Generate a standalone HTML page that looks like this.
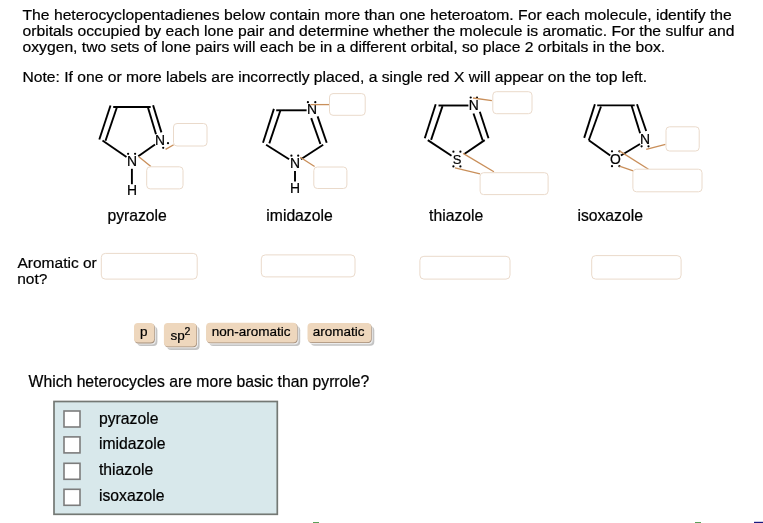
<!DOCTYPE html>
<html><head><meta charset="utf-8"><style>
html,body{margin:0;padding:0;background:#fff;width:763px;height:523px;overflow:hidden}
svg{position:absolute;left:0;top:0;will-change:transform;font-family:"Liberation Sans", sans-serif;fill:#000}
text{fill:#000;stroke:#000;stroke-width:0.22px}
</style></head><body>
<svg width="763" height="523" viewBox="0 0 763 523">
<text x="22.5" y="19.7" font-size="15.7" text-anchor="start" transform="matrix(1 0 0 0.975 0 0.493)" >The heterocyclopentadienes below contain more than one heteroatom. For each molecule, identify the</text>
<text x="22.5" y="36.0" font-size="15.7" text-anchor="start" transform="matrix(1 0 0 0.975 0 0.900)" >orbitals occupied by each lone pair and determine whether the molecule is aromatic. For the sulfur and</text>
<text x="22.5" y="51.6" font-size="15.7" text-anchor="start" transform="matrix(1 0 0 0.975 0 1.290)" >oxygen, two sets of lone pairs will each be in a different orbital, so place 2 orbitals in the box.</text>
<text x="22.5" y="81.7" font-size="15.66" text-anchor="start" transform="matrix(1 0 0 0.975 0 2.043)" >Note: If one or more labels are incorrectly placed, a single red X will appear on the top left.</text>
<line x1="113.2" y1="107" x2="150.7" y2="107" stroke="#000" stroke-width="1.9"/>
<line x1="117" y1="107" x2="105.5" y2="140.8" stroke="#000" stroke-width="1.9"/>
<line x1="110.5" y1="105.5" x2="99.3" y2="139.5" stroke="#000" stroke-width="1.9"/>
<line x1="147.8" y1="107" x2="156" y2="134.2" stroke="#000" stroke-width="1.9"/>
<line x1="153.1" y1="105.3" x2="161.4" y2="132.4" stroke="#000" stroke-width="1.9"/>
<line x1="102.5" y1="140.5" x2="126.5" y2="157" stroke="#000" stroke-width="1.9"/>
<line x1="138.3" y1="156.3" x2="155" y2="144.5" stroke="#000" stroke-width="1.9"/>
<text x="131.9" y="166.2" font-size="13.9" text-anchor="middle" >N</text>
<circle cx="128.1" cy="153.8" r="1.1" fill="#000"/>
<circle cx="135.1" cy="153.8" r="1.1" fill="#000"/>
<line x1="131.9" y1="168.8" x2="131.9" y2="184.2" stroke="#000" stroke-width="1.9"/>
<text x="132" y="195.4" font-size="13.9" text-anchor="middle" >H</text>
<text x="160" y="144.7" font-size="13.9" text-anchor="middle" >N</text>
<circle cx="168" cy="143.2" r="1.1" fill="#000"/>
<circle cx="163.2" cy="147.8" r="1.1" fill="#000"/>
<line x1="138.8" y1="156.8" x2="150.9" y2="166.4" stroke="#c98f5a" stroke-width="1.3"/>
<line x1="165.6" y1="149.4" x2="173.7" y2="144.7" stroke="#c98f5a" stroke-width="1.3"/>
<rect x="173.5" y="123.5" width="33.5" height="22.5" rx="3.5" fill="#fff" stroke="#eadacb" stroke-width="1"/>
<rect x="146.7" y="166.8" width="36.30000000000001" height="22.099999999999994" rx="3.5" fill="#fff" stroke="#eadacb" stroke-width="1"/>
<line x1="276.2" y1="110.3" x2="306.6" y2="110.3" stroke="#000" stroke-width="1.9"/>
<line x1="280.3" y1="110.7" x2="269.3" y2="143.4" stroke="#000" stroke-width="1.9"/>
<line x1="273.9" y1="108.9" x2="263" y2="142.8" stroke="#000" stroke-width="1.9"/>
<line x1="311.2" y1="118.1" x2="320.4" y2="144" stroke="#000" stroke-width="1.9"/>
<line x1="317.6" y1="116.4" x2="326.7" y2="142.8" stroke="#000" stroke-width="1.9"/>
<line x1="266.1" y1="144.8" x2="289.1" y2="159.2" stroke="#000" stroke-width="1.9"/>
<line x1="323.2" y1="144.8" x2="300.9" y2="159.2" stroke="#000" stroke-width="1.9"/>
<text x="312" y="114.35" font-size="13.9" text-anchor="middle" >N</text>
<circle cx="307.9" cy="102.2" r="1.1" fill="#000"/>
<circle cx="315.3" cy="102.2" r="1.1" fill="#000"/>
<line x1="310.5" y1="104.6" x2="329.6" y2="104.6" stroke="#c98f5a" stroke-width="1.3"/>
<rect x="329.5" y="93.6" width="35.69999999999999" height="21.700000000000003" rx="3.5" fill="#fff" stroke="#eadacb" stroke-width="1"/>
<text x="295" y="168.4" font-size="13.9" text-anchor="middle" >N</text>
<circle cx="291.4" cy="155.7" r="1.1" fill="#000"/>
<circle cx="298.2" cy="155.7" r="1.1" fill="#000"/>
<line x1="295" y1="171" x2="295" y2="181.5" stroke="#000" stroke-width="1.9"/>
<text x="295.1" y="192.7" font-size="13.9" text-anchor="middle" >H</text>
<line x1="300.2" y1="157.3" x2="314.6" y2="166.5" stroke="#c98f5a" stroke-width="1.3"/>
<rect x="313.8" y="167.0" width="33.099999999999966" height="21.5" rx="3.5" fill="#fff" stroke="#eadacb" stroke-width="1"/>
<line x1="438.5" y1="105.5" x2="468.4" y2="105.5" stroke="#000" stroke-width="1.9"/>
<line x1="442.5" y1="106.1" x2="431.1" y2="139.9" stroke="#000" stroke-width="1.9"/>
<line x1="435.7" y1="104.3" x2="424.8" y2="138.2" stroke="#000" stroke-width="1.9"/>
<line x1="473.5" y1="113.5" x2="482.7" y2="140.5" stroke="#000" stroke-width="1.9"/>
<line x1="479.8" y1="111.8" x2="488.5" y2="138.2" stroke="#000" stroke-width="1.9"/>
<line x1="427.8" y1="140.1" x2="451.5" y2="155.7" stroke="#000" stroke-width="1.9"/>
<line x1="484.7" y1="140.1" x2="464.3" y2="154" stroke="#000" stroke-width="1.9"/>
<text x="473.7" y="109.5" font-size="13.9" text-anchor="middle" >N</text>
<circle cx="470.7" cy="97.5" r="1.1" fill="#000"/>
<circle cx="477" cy="97.5" r="1.1" fill="#000"/>
<line x1="473" y1="98" x2="491.9" y2="100.6" stroke="#c98f5a" stroke-width="1.3"/>
<rect x="492.8" y="91.7" width="39.19999999999999" height="22.0" rx="3.5" fill="#fff" stroke="#eadacb" stroke-width="1"/>
<text x="457" y="163.7" font-size="13" text-anchor="middle" >S</text>
<circle cx="453.4" cy="151.7" r="1.1" fill="#000"/>
<circle cx="460.4" cy="151.7" r="1.1" fill="#000"/>
<circle cx="453.4" cy="166.4" r="1.1" fill="#000"/>
<circle cx="460.4" cy="166.4" r="1.1" fill="#000"/>
<line x1="463.1" y1="153.4" x2="493.9" y2="171.8" stroke="#c98f5a" stroke-width="1.3"/>
<line x1="455" y1="167.8" x2="480" y2="173.8" stroke="#c98f5a" stroke-width="1.3"/>
<rect x="480.1" y="172.7" width="68.0" height="21.900000000000006" rx="3.5" fill="#fff" stroke="#eadacb" stroke-width="1"/>
<line x1="597.2" y1="105.4" x2="634.7" y2="105.4" stroke="#000" stroke-width="1.9"/>
<line x1="601" y1="106.5" x2="588.8" y2="140.2" stroke="#000" stroke-width="1.9"/>
<line x1="594.9" y1="104.2" x2="584.2" y2="137.9" stroke="#000" stroke-width="1.9"/>
<line x1="631.6" y1="105.7" x2="640.1" y2="133.3" stroke="#000" stroke-width="1.9"/>
<line x1="637" y1="104.2" x2="646.2" y2="131" stroke="#000" stroke-width="1.9"/>
<line x1="588.8" y1="140.2" x2="610.2" y2="155.5" stroke="#000" stroke-width="1.9"/>
<line x1="620.9" y1="155.5" x2="640" y2="144" stroke="#000" stroke-width="1.9"/>
<text x="645" y="144" font-size="13.9" text-anchor="middle" >N</text>
<circle cx="641.6" cy="146.3" r="1.1" fill="#000"/>
<circle cx="648.5" cy="146.3" r="1.1" fill="#000"/>
<text x="615.35" y="163.9" font-size="13.9" text-anchor="middle" >O</text>
<circle cx="612" cy="151.3" r="1.1" fill="#000"/>
<circle cx="619.4" cy="151.3" r="1.1" fill="#000"/>
<circle cx="612" cy="166.2" r="1.1" fill="#000"/>
<circle cx="619.4" cy="166.2" r="1.1" fill="#000"/>
<line x1="646.2" y1="149.3" x2="665.5" y2="144.3" stroke="#c98f5a" stroke-width="1.3"/>
<line x1="619.4" y1="150.9" x2="648.5" y2="169.2" stroke="#c98f5a" stroke-width="1.3"/>
<line x1="619.4" y1="166.2" x2="633.2" y2="170.8" stroke="#c98f5a" stroke-width="1.3"/>
<rect x="666.0" y="126.8" width="33.200000000000045" height="24.200000000000003" rx="3.5" fill="#fff" stroke="#eadacb" stroke-width="1"/>
<rect x="632.9" y="169.2" width="69.10000000000002" height="22.600000000000023" rx="3.5" fill="#fff" stroke="#eadacb" stroke-width="1"/>
<text x="107.4" y="221.2" font-size="15.72" text-anchor="start" >pyrazole</text>
<text x="266.3" y="221.2" font-size="15.72" text-anchor="start" >imidazole</text>
<text x="429.1" y="221.2" font-size="15.72" text-anchor="start" >thiazole</text>
<text x="577.4" y="221.2" font-size="15.72" text-anchor="start" >isoxazole</text>
<text x="17.5" y="268.4" font-size="15.5" text-anchor="start" >Aromatic or</text>
<text x="17.2" y="283.5" font-size="15.5" text-anchor="start" >not?</text>
<rect x="101.3" y="253.4" width="95.89999999999999" height="25.700000000000017" rx="4" fill="#fff" stroke="#eadacb" stroke-width="1"/>
<rect x="261.3" y="254.9" width="93.69999999999999" height="21.99999999999997" rx="4" fill="#fff" stroke="#eadacb" stroke-width="1"/>
<rect x="419.9" y="256.3" width="90.10000000000002" height="22.80000000000001" rx="4" fill="#fff" stroke="#eadacb" stroke-width="1"/>
<rect x="591.7" y="255.6" width="89.39999999999998" height="23.50000000000003" rx="4" fill="#fff" stroke="#eadacb" stroke-width="1"/>
<rect x="137.2" y="326.4" width="20.19999999999999" height="19.70000000000001" rx="4" fill="#c4c4c4"/>
<rect x="135.6" y="324.79999999999995" width="20.19999999999999" height="19.70000000000001" rx="4" fill="#ececec"/>
<rect x="134.6" y="323.7" width="20.19999999999999" height="19.70000000000001" rx="4" fill="#a38d79"/>
<rect x="134" y="322.9" width="20.19999999999999" height="19.70000000000001" rx="4" fill="#eed7bd"/>
<text x="140" y="335.7" font-size="13.5" text-anchor="start" >p</text>
<rect x="167.1" y="326.5" width="32.5" height="23.4" rx="4" fill="#c4c4c4"/>
<rect x="165.5" y="324.9" width="32.5" height="23.4" rx="4" fill="#ececec"/>
<rect x="164.5" y="323.8" width="32.5" height="23.4" rx="4" fill="#a38d79"/>
<rect x="163.9" y="323" width="32.5" height="23.4" rx="4" fill="#eed7bd"/>
<text x="170.5" y="339.5" font-size="13.5" text-anchor="start" >sp</text>
<text x="184.6" y="334.6" font-size="10.5" text-anchor="start" >2</text>
<rect x="209.29999999999998" y="326.2" width="90.9" height="19.800000000000033" rx="4" fill="#c4c4c4"/>
<rect x="207.7" y="324.59999999999997" width="90.9" height="19.800000000000033" rx="4" fill="#ececec"/>
<rect x="206.7" y="323.5" width="90.9" height="19.800000000000033" rx="4" fill="#a38d79"/>
<rect x="206.1" y="322.7" width="90.9" height="19.800000000000033" rx="4" fill="#eed7bd"/>
<text x="211.8" y="336.2" font-size="13.5" text-anchor="start" >non-aromatic</text>
<rect x="310.7" y="326.4" width="63.60000000000002" height="19.4" rx="4" fill="#c4c4c4"/>
<rect x="309.1" y="324.79999999999995" width="63.60000000000002" height="19.4" rx="4" fill="#ececec"/>
<rect x="308.1" y="323.7" width="63.60000000000002" height="19.4" rx="4" fill="#a38d79"/>
<rect x="307.5" y="322.9" width="63.60000000000002" height="19.4" rx="4" fill="#eed7bd"/>
<text x="312.8" y="336" font-size="13.5" text-anchor="start" >aromatic</text>
<text x="28.6" y="386.6" font-size="15.72" text-anchor="start" >Which heterocycles are more basic than pyrrole?</text>
<rect x="54" y="401.5" width="223.3" height="112.8" fill="#d8e8eb" stroke="#747874" stroke-width="1.7"/>
<rect x="64" y="411" width="16" height="16" fill="#fff" stroke="#7c7c7c" stroke-width="1.6"/>
<text x="99" y="423.5" font-size="15.72" text-anchor="start" >pyrazole</text>
<rect x="64" y="436.9" width="16" height="16" fill="#fff" stroke="#7c7c7c" stroke-width="1.6"/>
<text x="99" y="449.2" font-size="15.72" text-anchor="start" >imidazole</text>
<rect x="64" y="463.3" width="16" height="16" fill="#fff" stroke="#7c7c7c" stroke-width="1.6"/>
<text x="99" y="474.7" font-size="15.72" text-anchor="start" >thiazole</text>
<rect x="64" y="489.3" width="16" height="16" fill="#fff" stroke="#7c7c7c" stroke-width="1.6"/>
<text x="99" y="500.8" font-size="15.72" text-anchor="start" >isoxazole</text>
<rect x="313" y="522" width="6" height="1" fill="#5aa05a"/>
<rect x="695" y="522" width="6" height="1" fill="#5aa05a"/>
<rect x="754" y="521.8" width="9" height="1.2" fill="#1a1a80"/>
</svg>
</body></html>
